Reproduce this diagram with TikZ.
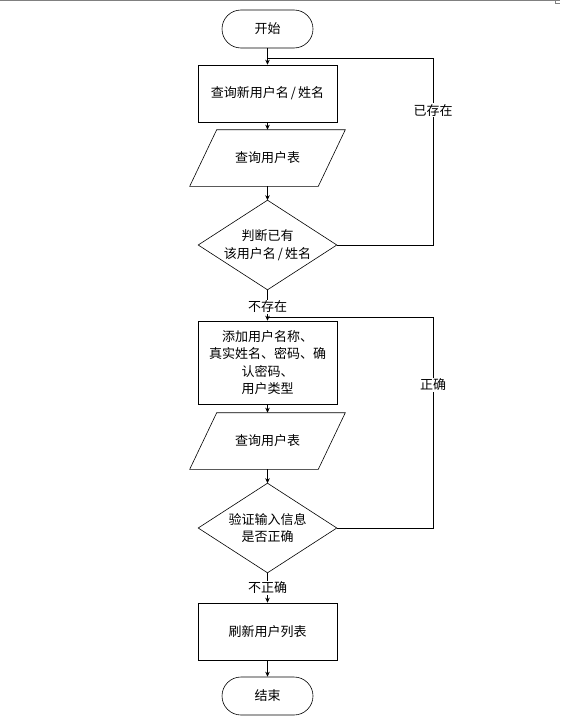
\documentclass[tikz,border=0pt]{standalone}
\usepackage{fontspec}
\setmainfont{Noto Sans CJK SC}
\usetikzlibrary{arrows.meta}
\begin{document}
\begin{tikzpicture}[x=1pt,y=-1pt,
  every node/.style={font=\fontsize{13pt}{17.5pt}\selectfont, align=center, inner sep=0pt},
  term/.style={draw, rounded corners=19pt, minimum width=91pt, minimum height=38pt},
  proc/.style={draw, minimum width=139pt},
  iobox/.style={minimum width=128pt, minimum height=56pt},
  dbox/.style={minimum width=138pt, minimum height=89pt},
  lbl/.style={fill=white, inner sep=1pt},
  arr/.style={-{Stealth[length=5pt,width=4.5pt]}},
  line width=0.6pt]
\useasboundingbox (0,0) rectangle (560,720);
\draw[gray, line width=1pt] (0,0.5) -- (560,0.5);
\draw[gray, line width=0.5pt] (555,0.5) -- (555,3) -- (560,3);

\node[term] (start) at (267.5,29) {开始};
\node[proc, minimum height=57pt] (q1) at (267.5,93.5) {查询新用户名\,/\,姓名};
\node[iobox] (io1) at (267.5,158) {查询用户表};
\draw ([xshift=13.5pt]io1.north west) -- ([xshift=13.5pt]io1.north east) -- ([xshift=-13.5pt]io1.south east) -- ([xshift=-13.5pt]io1.south west) -- cycle;
\node[dbox] (d1) at (267.5,245) {判断已有\\该用户名\,/\,姓名};
\draw (d1.north) -- (d1.east) -- (d1.south) -- (d1.west) -- cycle;

\node[proc, minimum height=83pt] (add) at (267.5,362.5) {添加用户名称、\\真实姓名、密码、确\\认密码、\\用户类型};
\node[iobox] (io2) at (267.5,441) {查询用户表};
\draw ([xshift=13.5pt]io2.north west) -- ([xshift=13.5pt]io2.north east) -- ([xshift=-13.5pt]io2.south east) -- ([xshift=-13.5pt]io2.south west) -- cycle;
\node[dbox] (d2) at (267.5,528) {验证输入信息\\是否正确};
\draw (d2.north) -- (d2.east) -- (d2.south) -- (d2.west) -- cycle;

\node[proc, minimum height=57pt] (ref) at (267.5,631.5) {刷新用户列表};
\node[term] (end) at (267.5,696) {结束};

\coordinate (j1) at (267.5,58);
\coordinate (r1a) at (433,245);
\coordinate (r1b) at (433,58);
\coordinate (j2) at (267.5,317);
\coordinate (r2a) at (433,528);
\coordinate (r2b) at (433,317);

\draw[arr] (start) -- (q1);
\draw[arr] (q1) -- (io1.north);
\draw[arr] (io1.south) -- (d1.north);
\draw[arr] (d1.south) -- node[lbl, pos=0.55] {不存在} (add);
\draw[arr] (add) -- (io2.north);
\draw[arr] (io2.south) -- (d2.north);
\draw[arr] (d2.south) -- node[lbl, pos=0.5] {不正确} (ref);
\draw[arr] (ref) -- (end);

\draw (d1.east) -- (r1a) -- node[lbl, pos=0.72] {已存在} (r1b) -- (j1);
\draw (d2.east) -- (r2a) -- node[lbl, pos=0.68] {正确} (r2b) -- (j2);
\end{tikzpicture}
\end{document}
